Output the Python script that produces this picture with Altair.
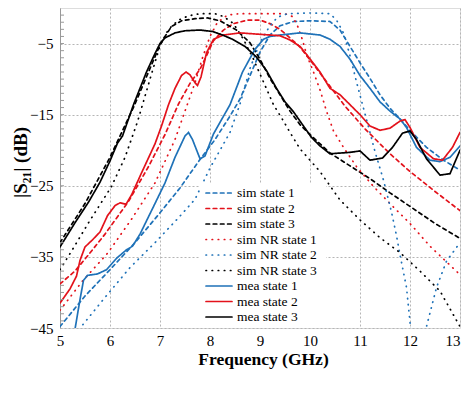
import altair as alt
import pandas as pd

# ---------------- data ----------------
series_names = ["sim state 1", "sim state 2", "sim state 3",
                "sim NR state 1", "sim NR state 2", "sim NR state 3",
                "mea state 1", "mea state 2", "mea state 3"]

# sim state 1 (blue dashed)
f_sim1 = [5.0, 5.5, 6.0, 6.5, 7.0, 7.4, 7.8, 8.1, 8.4, 8.6, 8.8, 9.0, 9.2, 9.4, 9.67, 10.0, 10.4,
          10.6, 10.8, 11.0, 11.2, 11.4, 11.6, 11.8, 12.0, 12.33, 12.67, 13.0]
db_sim1 = [-44.8, -40.5, -36.8, -33.0, -28.8, -25.3, -21.3, -18.5, -15.2, -12.8, -9.5, -6.2, -3.8,
           -2.5, -1.9, -1.8, -1.9, -3.1, -5.4, -7.7, -9.9, -12.2, -14.1, -15.6, -17.2, -19.6, -21.4, -22.8]

# sim state 2 (red dashed)
f_sim2 = [5.0, 5.3, 5.57, 5.9, 6.37, 6.77, 7.1, 7.37, 7.6, 7.8, 7.93, 8.07, 8.27, 8.47, 8.75, 9.0,
          9.2, 9.4, 9.6, 9.8, 10.0, 10.4, 10.7, 11.1, 11.6, 12.0, 12.5, 13.0]
db_sim2 = [-38.8, -37.0, -34.7, -31.8, -27.2, -22.3, -17.8, -13.5, -10.6, -8.6, -6.7, -4.6, -3.1,
           -2.2, -1.7, -1.7, -2.2, -3.0, -4.2, -5.5, -7.3, -11.0, -13.8, -17.0, -20.5, -23.0, -25.8, -28.5]

# sim state 3 (black dashed)
f_sim3 = [5.0, 5.5, 6.0, 6.5, 6.8, 7.0, 7.1, 7.23, 7.43, 7.7, 7.95, 8.2, 8.53, 8.8, 9.0, 9.2, 9.4,
          9.6, 9.8, 10.0, 10.4, 10.8, 11.2, 11.6, 12.0, 12.5, 13.0]
db_sim3 = [-33.0, -27.5, -21.0, -13.5, -8.5, -5.2, -4.0, -2.6, -1.8, -1.5, -1.4, -1.8, -3.1, -4.9,
           -7.2, -9.9, -12.2, -14.5, -16.4, -17.8, -20.4, -22.2, -24.0, -26.0, -27.9, -30.3, -32.4]

# sim NR state 1 (red dotted)
f_nr1 = [5.0, 5.45, 5.95, 6.43, 6.9, 7.3, 7.5, 7.7, 7.85, 8.0, 8.15, 8.35, 8.6, 9.0, 9.5, 9.65,
         9.75, 9.85, 9.93, 10.07, 10.2, 10.33, 10.47, 10.67, 10.93, 11.27, 11.67, 12.0, 12.4, 13.0]
db_nr1 = [-42.5, -38.4, -34.5, -29.7, -24.6, -18.5, -14.5, -10.5, -7.0, -4.0, -2.0, -1.0, -0.8,
          -0.8, -0.8, -1.2, -2.5, -4.5, -6.5, -9.0, -11.5, -14.5, -17.3, -19.6, -22.3, -25.1, -28.0,
          -30.3, -33.5, -37.5]

# sim NR state 2 (blue dotted)
f_nr2 = [5.38, 5.9, 6.4, 6.9, 7.37, 7.7, 8.0, 8.2, 8.4, 8.6, 8.8, 9.0, 9.2, 9.35, 9.55, 10.0, 10.4,
         10.53, 10.67, 10.8, 10.93, 11.07, 11.2, 11.3, 11.47, 11.63, 11.73, 11.8, 11.93, 12.17,
         12.33, 12.53, 12.73, 13.0]
db_nr2 = [-45.2, -40.7, -36.5, -33.0, -29.5, -26.9, -22.5, -20.0, -17.5, -13.5, -8.5, -4.8, -2.5,
          -1.3, -0.8, -0.7, -0.8, -1.7, -3.5, -6.7, -10.4, -14.1, -17.5, -20.2, -24.2, -28.7, -32.0,
          -34.7, -39.3, -56.0, -44.8, -39.3, -35.6, -33.0]

# sim NR state 3 (black dotted)
f_nr3 = [5.0, 5.23, 5.57, 6.03, 6.3, 6.55, 6.8, 7.0, 7.17, 7.37, 7.57, 7.8, 8.1, 8.27, 8.47, 8.67,
         8.87, 9.07, 9.27, 9.47, 9.6, 9.8, 10.2, 10.6, 11.0, 11.4, 11.8, 12.2, 12.6, 13.0]
db_nr3 = [-36.8, -34.2, -30.2, -25.1, -21.0, -16.0, -10.0, -5.3, -3.0, -1.7, -1.1, -0.8, -0.8,
          -1.2, -2.2, -4.4, -7.2, -10.4, -13.6, -15.9, -17.5, -19.8, -23.0, -27.0, -29.8, -32.3,
          -34.4, -37.0, -39.8, -44.8]

# mea state 1 (blue solid)
f_mea1 = [5.28, 5.4, 5.47, 5.55, 5.75, 5.93, 6.13, 6.33, 6.45, 6.6, 6.83, 7.1, 7.3, 7.5, 7.57,
          7.65, 7.8, 7.9, 8.07, 8.4, 8.65, 8.9, 9.07, 9.2, 9.4, 9.8, 10.2, 10.4, 10.6, 10.8, 11.0,
          11.2, 11.4, 11.6, 11.8, 11.93, 12.13, 12.4, 12.6, 12.8, 13.0]
db_mea1 = [-46.0, -41.0, -38.3, -37.6, -37.4, -36.8, -35.2, -34.0, -33.5, -31.8, -28.5, -24.6,
           -21.0, -18.0, -17.5, -18.5, -21.2, -20.8, -17.7, -13.6, -9.0, -5.8, -4.4, -4.0, -3.8,
           -3.5, -3.8, -4.4, -5.4, -7.2, -9.5, -11.3, -13.2, -14.5, -15.6, -16.8, -19.6, -21.4,
           -21.6, -21.0, -19.4]

# mea state 2 (red solid)
f_mea2 = [5.0, 5.2, 5.33, 5.4, 5.5, 5.65, 5.8, 5.95, 6.1, 6.2, 6.32, 6.43, 6.63, 6.9, 7.03, 7.17,
          7.3, 7.43, 7.52, 7.6, 7.7, 7.75, 7.82, 7.93, 8.07, 8.27, 8.6, 9.0, 9.4, 9.6, 9.8, 9.95,
          10.2, 10.4, 10.6, 10.8, 11.0, 11.2, 11.4, 11.6, 11.8, 11.9, 12.0, 12.2, 12.47, 12.65,
          12.85, 13.0]
db_mea2 = [-41.5, -39.5, -37.7, -35.5, -33.6, -32.6, -31.5, -29.2, -27.8, -27.4, -27.6, -26.3,
           -23.2, -19.1, -16.6, -13.6, -11.3, -9.5, -9.0, -9.4, -10.5, -10.9, -9.7, -6.3, -4.4,
           -3.8, -3.5, -3.7, -3.9, -4.5, -5.4, -6.7, -9.0, -11.3, -12.2, -13.6, -15.0, -16.6,
           -17.2, -16.9, -15.9, -15.7, -16.8, -19.6, -21.2, -21.4, -19.6, -17.5]

# mea state 3 (black solid)
f_mea3 = [5.0, 5.3, 5.57, 5.8, 6.0, 6.15, 6.25, 6.47, 6.73, 6.9, 7.0, 7.1, 7.3, 7.5, 7.8, 8.05,
          8.25, 8.45, 8.7, 8.93, 9.13, 9.33, 9.5, 9.67, 9.85, 10.03, 10.2, 10.4, 10.6, 10.8, 11.0,
          11.2, 11.45, 11.65, 11.85, 12.0, 12.13, 12.33, 12.6, 12.8, 13.0]
db_mea3 = [-33.6, -30.2, -27.3, -24.5, -21.5, -19.0, -18.0, -13.6, -9.0, -6.4, -5.0, -4.2, -3.5,
           -3.2, -3.1, -3.3, -3.8, -4.4, -5.4, -6.9, -8.8, -11.3, -13.2, -14.6, -16.4, -18.2,
           -19.4, -20.5, -20.4, -20.3, -20.1, -21.4, -21.1, -19.6, -17.6, -17.3, -18.5, -21.2,
           -23.5, -23.3, -20.0]

x_ticks = [5, 6, 7, 8, 9, 10, 11, 12, 13]
y_ticks = [-45, -35, -25, -15, -5]
y_minor = list(range(-44, 0))

colors = ["#1f72b8", "#e3121b", "#000000",
          "#e3121b", "#1f72b8", "#000000",
          "#1f72b8", "#e3121b", "#000000"]
# round caps are used: dash lengths below are before the cap extension
dashes = [[3.6, 3.6], [3.6, 3.6], [3.6, 3.6],
          [0.5, 5.6], [0.5, 5.6], [0.5, 5.6],
          [1, 0], [1, 0], [1, 0]]
widths = [1.7, 1.7, 1.7, 3.4, 3.4, 3.4, 1.9, 1.9, 1.9]

freqs = [f_sim1, f_sim2, f_sim3, f_nr1, f_nr2, f_nr3, f_mea1, f_mea2, f_mea3]
dbs = [db_sim1, db_sim2, db_sim3, db_nr1, db_nr2, db_nr3, db_mea1, db_mea2, db_mea3]

rows = []
for name, fl, dl in zip(series_names, freqs, dbs):
    for i, (fv, dv) in enumerate(zip(fl, dl)):
        rows.append({"series": name, "f": fv, "db": dv, "order": i})
df = pd.DataFrame(rows)

FONT = "Liberation Serif"
color_scale = alt.Scale(domain=series_names, range=colors)
dash_scale = alt.Scale(domain=series_names, range=dashes)
width_scale = alt.Scale(domain=series_names, range=widths)

x_enc = alt.X("f:Q", scale=alt.Scale(domain=[5, 13], nice=False, zero=False),
              axis=alt.Axis(values=x_ticks, title="Frequency (GHz)", format="d",
                            grid=True, gridDash=[2, 2], gridColor="#b5b5b5",
                            domain=False, ticks=False, labelPadding=5, labelFlush=False,
                            labelAlign=alt.condition("datum.value == 13",
                                                     alt.value("right"), alt.value("center")),
                            labelFont=FONT, labelFontSize=15, labelColor="#000",
                            titleFont=FONT, titleFontSize=17.5, titleFontWeight="bold",
                            titleColor="#000", titleY=36, titleBaseline="alphabetic",
                            titleX=203))
y_enc = alt.Y("db:Q", scale=alt.Scale(domain=[-45, 0], nice=False, zero=False),
              axis=alt.Axis(values=y_ticks, title="|S₂₁| (dB)",
                            grid=True, gridDash=[2, 2], gridColor="#b5b5b5",
                            domain=True, domainColor="#999", ticks=False, labelPadding=7,
                            labelFlush=False,
                            labelFont=FONT, labelFontSize=15, labelColor="#000",
                            titleFont=FONT, titleFontSize=19, titleFontWeight="bold",
                            titleColor="#000", titleX=-34, titleY=154, titleAngle=270,
                            titleBaseline="alphabetic"))

lines = alt.Chart(df).mark_line(clip=True, strokeCap="round").encode(
    x=x_enc, y=y_enc,
    color=alt.Color("series:N", scale=color_scale, legend=None),
    strokeDash=alt.StrokeDash("series:N", scale=dash_scale, legend=None),
    strokeWidth=alt.StrokeWidth("series:N", scale=width_scale, legend=None),
    detail="series:N",
    order="order:Q",
)

minor_df = pd.DataFrame({"db": y_minor})
minor = alt.Chart(minor_df).mark_rule(color="#999", strokeWidth=1).encode(
    x=alt.value(0), x2=alt.value(4),
    y=alt.Y("db:Q", scale=alt.Scale(domain=[-45, 0], nice=False, zero=False), axis=None),
)

# legend (drawn as a small layered table)
legend_df = pd.DataFrame({"series": series_names, "row": list(range(len(series_names)))})
row_scale = alt.Scale(domain=[0, 8], range=[185, 309])
legend_bg = alt.Chart(pd.DataFrame({"k": [0]})).mark_rect(fill="white").encode(
    x=alt.value(140), x2=alt.value(266), y=alt.value(176), y2=alt.value(319))
legend_lines = alt.Chart(legend_df).mark_rule(strokeCap="round").encode(
    x=alt.value(146), x2=alt.value(172),
    y=alt.Y("row:Q", scale=row_scale, axis=None),
    color=alt.Color("series:N", scale=color_scale, legend=None),
    strokeDash=alt.StrokeDash("series:N", scale=dash_scale, legend=None),
    strokeWidth=alt.StrokeWidth("series:N", scale=width_scale, legend=None),
)
legend_text = alt.Chart(legend_df).mark_text(
    align="left", baseline="middle", font=FONT, fontSize=13.5, color="#000").encode(
    x=alt.value(177),
    y=alt.Y("row:Q", scale=row_scale, axis=None),
    text="series:N",
)

chart = alt.layer(lines, minor, legend_bg, legend_lines, legend_text).resolve_scale(
    y="independent"
).properties(
    width=400, height=320,
    autosize=alt.AutoSizeParams(type="none"),
    padding={"left": 52, "top": 0, "right": 6, "bottom": 62},
).configure_view(
    stroke="#aaaaaa", strokeWidth=1
).configure(background="white", font=FONT)

chart.save("out.html", embed_options={"renderer": "svg", "actions": False})
